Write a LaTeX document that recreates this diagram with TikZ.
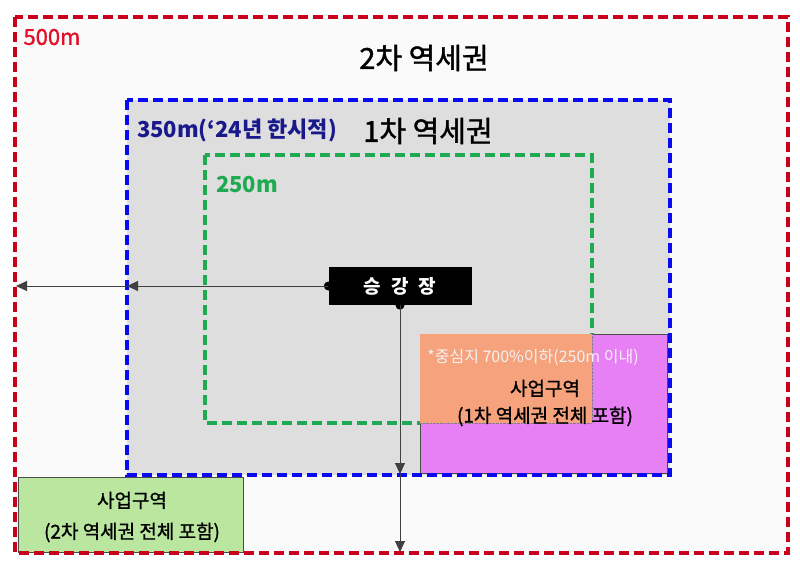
\documentclass[tikz,border=0pt]{standalone}
\usepackage{fontspec}
\setmainfont{Noto Sans CJK KR}
\newfontfamily\medfont{Noto Sans CJK KR}[FakeBold=1.2]
\usetikzlibrary{arrows.meta}

\definecolor{zonered}{RGB}{200,0,25}
\definecolor{zoneblue}{RGB}{10,10,240}
\definecolor{zonegreen}{RGB}{30,170,80}
\definecolor{navy}{RGB}{25,25,140}
\definecolor{tagred}{RGB}{225,15,40}
\definecolor{bgout}{RGB}{250,250,250}
\definecolor{bgin}{RGB}{222,222,222}
\definecolor{areapink}{RGB}{232,128,245}
\definecolor{areaorange}{RGB}{245,162,125}
\definecolor{areagreen}{RGB}{186,230,160}

\begin{document}
\begin{tikzpicture}[x=1pt, y=-1pt,
	zone/.style={line width=3.5pt, dash pattern=on 10pt off 5pt},
	conn/.style={draw=black!75, line width=1pt, -{Triangle[width=10pt,length=11pt]}},
	area/.style={draw=black!70, line width=1pt},
	title/.style={font=\medfont\fontsize{29}{32}\selectfont},
	tag/.style={font=\bfseries\fontsize{22}{24}\selectfont},
	areatext/.style={align=center, font=\medfont\fontsize{19}{27}\selectfont}]
	\useasboundingbox (0, 0) rectangle (800, 571);

	% 바탕
	\fill [bgout] (15, 17) rectangle (788, 553);
	\fill [bgin] (127, 100) rectangle (670, 475);

	% 250m 구역
	\draw [zone, zonegreen] (205, 155) rectangle (592, 423);

	% 사업구역
	\draw [area, fill=areapink] (420, 334) rectangle (667, 473);
	\fill [areaorange] (420, 334) rectangle (592, 423);
	\draw [black!50, densely dotted, thin] (420, 423) -- (592, 423) -- (592, 334);
	\draw [area, fill=areagreen] (18, 477) rectangle (243, 552);

	% 350m, 500m 구역
	\draw [zone, zoneblue, line width=4pt] (127, 100) rectangle (670, 475);
	\draw [zone, zonered] (15, 17) rectangle (788, 553);

	% 구역 경계 (화살표 끝)
	\coordinate (blue-w) at (127, 286);
	\coordinate (red-w) at (16, 286);
	\coordinate (blue-s) at (400, 474);
	\coordinate (red-s) at (400, 552);

	% 승강장
	\node [fill=black, text=white, minimum width=143pt, minimum height=38pt,
		inner sep=0pt, font=\bfseries\fontsize{19}{22}\selectfont] (stn) at (400, 286)
		{승\hspace{10pt}강\hspace{10pt}장};
	\fill [black] (stn.west) circle (4.5pt);
	\fill [black] (stn.south) circle (4.5pt);

	% lines
	\draw [conn] (stn.west) -- (blue-w);
	\draw [conn] (blue-w) -- (red-w);
	\draw [conn] (stn.south) -- (blue-s);
	\draw [conn] (blue-s) -- (red-s);

	% 글자
	\node [tagred, font=\medfont\fontsize{22}{24}\selectfont] (r-tag) at (52, 37) {500m};
	\node [title] (t2) at (424, 58) {2차 역세권};
	\node [tag, navy] (b-tag) at (237, 130) {350m(‘24년 한시적)};
	\node [title] (t1) at (428, 131) {1차 역세권};
	\node [tag, zonegreen] (g-tag) at (247, 185) {250m};
	\node [text=black!5, font=\fontsize{16}{18}\selectfont] (note) at (533, 357)
		{*중심지 700\%이하(250m 이내)};
	\node [areatext] (area1) at (545, 403) {사업구역\\(1차 역세권 전체 포함)};
	\node [areatext, font=\medfont\fontsize{19}{31}\selectfont] (area2) at (132, 517)
		{사업구역\\(2차 역세권 전체 포함)};
\end{tikzpicture}
\end{document}
